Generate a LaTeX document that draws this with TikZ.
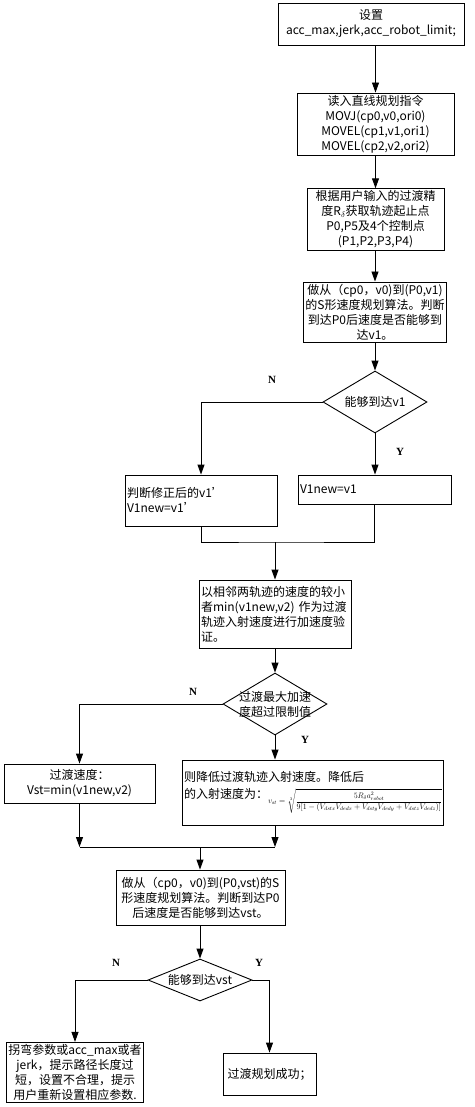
\documentclass[tikz,border=0pt]{standalone}
\usepackage{amsmath,graphicx}
\usepackage{fontspec}
\setmainfont{Noto Sans CJK SC}
\newfontfamily\ynfont{Liberation Serif}
\usetikzlibrary{arrows.meta,shapes.geometric}

\begin{document}
\begin{tikzpicture}[x=1pt,y=-1pt,>={Triangle[length=10pt,width=7pt]},line width=0.9pt,
  every node/.style={font=\fontsize{12}{15}\selectfont,align=center},
  box/.style={draw,inner sep=2pt},
  dia/.style={draw,diamond,inner sep=0pt,minimum width=104pt},
  yn/.style={font=\ynfont\bfseries\fontsize{11}{12}\selectfont}]
\useasboundingbox (0,0) rectangle (474,1107);
\node[box,minimum width=186pt,minimum height=42pt] (setp) at (371,24) {设置\\acc\_max,jerk,acc\_robot\_limit;};
\node[box,minimum width=157pt,minimum height=62pt] (readcmd) at (375.5,124) {读入直线规划指令\\MOVJ(cp0,v0,ori0)\\MOVEL(cp1,v1,ori1)\\MOVEL(cp2,v2,ori2)};
\node[box,minimum width=137pt,minimum height=61pt] (ctrlpt) at (375.5,219.5) {根据用户输入的过渡精\\度R$_\delta$获取轨迹起止点\\P0,P5及4个控制点\\(P1,P2,P3,P4)};
\node[box,minimum width=143pt,minimum height=56pt] (splan) at (375,312) {做从（cp0，v0)到(P0,v1)\\的S形速度规划算法。判断\\到达P0后速度是否能够到\\达v1。};
\node[dia,minimum height=62pt,label={center:能够到达v1}] (reach) at (375,402) {};
\node[box,align=left,text width=148pt,minimum height=51pt] (fixv) at (201,500.5) {判断修正后的v1'\\V1new=v1'};
\node[box,align=left,text width=149pt,minimum height=29pt] (keepv) at (374.5,489.5) {V1new=v1};
\node[box,align=left,text width=148pt,minimum height=68pt] (minv) at (275,614) {以相邻两轨迹的速度的较小\\者min(v1new,v2) 作为过渡\\轨迹入射速度进行加速度验\\证。};
\node[dia,minimum height=62pt,label={center:过渡最大加速\\度超过限制值}] (accchk) at (275,704) {};
\node[box,minimum width=151pt,minimum height=39pt] (vst) at (79.5,783.5) {过渡速度：\\Vst=min(v1new,v2)};
\node[box,align=left,text width=257pt,minimum height=65pt] (reduce) at (312.5,792.5) {则降低过渡轨迹入射速度。降低后\\[2pt]的入射速度为：\raisebox{-5pt}{\resizebox{174pt}{!}{$v_{st}=\sqrt[3]{\dfrac{5R_{\delta}a^2_{robot}}{9[1-(V_{dstx}V_{dedx}+V_{dsty}V_{dedy}+V_{dstz}V_{dedz})]}}$}}};
\node[box,minimum width=169pt,minimum height=55pt] (splan2) at (200.5,897.5) {做从（cp0，v0)到(P0,vst)的S\\形速度规划算法。判断到达P0\\后速度是否能够到达vst。};
\node[dia,minimum height=42pt,label={center:能够到达vst}] (reachst) at (200,980) {};
\node[box,minimum width=134pt,minimum height=59pt] (fail) at (75,1072.5) {拐弯参数或acc\_max或者\\jerk，提示路径长度过\\短，设置不合理，提示\\用户重新设置相应参数.};
\node[box,minimum width=93pt,minimum height=42pt] (succ) at (269.5,1074) {过渡规划成功；};
% yes / no marks
\node[yn] (n1) at (272,380) {N};
\node[yn] (y1) at (400,452) {Y};
\node[yn] (n2) at (193,692) {N};
\node[yn] (y2) at (305,740) {Y};
\node[yn] (n3) at (116,963) {N};
\node[yn] (y3) at (259,963) {Y};
\coordinate (m1) at (275,542);
\coordinate (m2l) at (79.5,847);
\coordinate (m2r) at (275,847);
\coordinate (m2) at (200,847);
\draw[->] (setp.south -| readcmd.north) -- (readcmd.north);
\draw[->] (readcmd) -- (ctrlpt);
\draw[->] (ctrlpt.south) -- (splan.south |- ctrlpt.south) -- (splan.north);
\draw[->] (splan) -- (reach);
\draw[->] (reach.west) -| (fixv.north);
\draw[->] (reach.south) -- (reach.south |- keepv.north);
\draw (fixv.south) |- (m1) -| (keepv.south);
\draw[->] (m1) -- (minv.north);
\draw[->] (minv) -- (accchk);
\draw[->] (accchk.west) -| (vst.north);
\draw[->] (accchk.south) -- (accchk.south |- reduce.north);
\draw[->] (vst.south) -- (m2l);
\draw[->] (reduce.south -| accchk.south) -- (m2r);
\draw (m2l) -- (m2r);
\draw[->] (m2) -- (m2 |- splan2.north);
\draw[->] (splan2.south -| reachst.north) -- (reachst.north);
\draw[->] (reachst.west) -| (fail.north);
\draw[->] (reachst.east) -| (succ.north);
\end{tikzpicture}
\end{document}
